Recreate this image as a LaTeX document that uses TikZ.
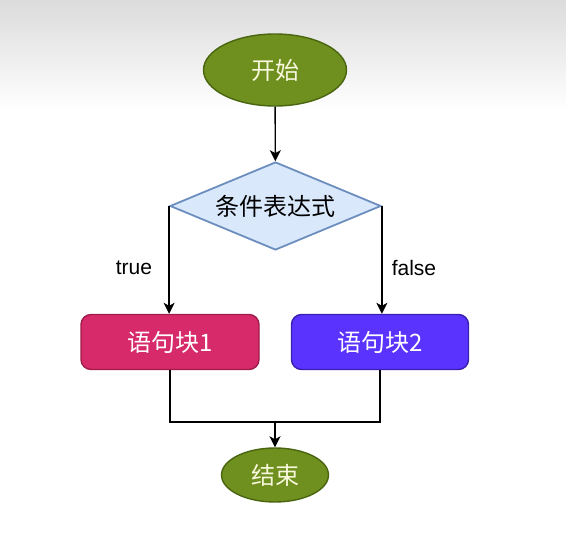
\documentclass[tikz,border=0pt]{standalone}
\usepackage{fontspec}
\setmainfont{Liberation Sans}
\newfontfamily\cjk{Noto Sans CJK SC}
\usetikzlibrary{shapes.geometric,arrows.meta}
\definecolor{termfill}{HTML}{6F8F1F}
\definecolor{termline}{HTML}{4A6510}
\definecolor{termtext}{HTML}{F8F8DC}
\definecolor{condfill}{HTML}{DAE8FC}
\definecolor{condline}{HTML}{6C8EBF}
\definecolor{onefill}{HTML}{D62A6A}
\definecolor{oneline}{HTML}{A01C4A}
\definecolor{twofill}{HTML}{5B33FF}
\definecolor{twoline}{HTML}{3A1FB0}
\tikzset{
  term/.style={ellipse, draw=termline, fill=termfill, line width=1.4pt,
    text=termtext, inner sep=0pt, font=\cjk\fontsize{24}{28}\selectfont},
  cond/.style={diamond, aspect=2.4, draw=condline, fill=condfill, line width=1.8pt,
    inner sep=0pt, minimum width=211pt, minimum height=88pt,
    font=\cjk\fontsize{24}{28}\selectfont},
  block/.style={rectangle, rounded corners=10pt, line width=1.4pt, text=white,
    inner sep=0pt, minimum height=55pt, font=\cjk\fontsize{24}{28}\selectfont},
  flow/.style={line width=1.4pt, -{Stealth[length=11pt,width=11pt,inset=3pt]}},
  tag/.style={font=\fontsize{21}{24}\selectfont}
}
\begin{document}
\begin{tikzpicture}[x=1pt,y=-1pt]
                \useasboundingbox (0,0) rectangle (566,551);
                \shade[top color=gray!28, bottom color=white] (0,0) rectangle (566,110);
                \node[term, minimum width=143pt, minimum height=72pt] (start) at (275,70) {开始};
                \node[cond] (cond) at (275.5,206) {条件表达式};
                \node[block, draw=oneline, fill=onefill, minimum width=178pt] (one) at (170,342) {语句块1};
                \node[block, draw=twoline, fill=twofill, minimum width=177pt] (two) at (380,342) {语句块2};
                \node[term, minimum width=107pt, minimum height=54pt] (stop) at (275,475) {结束};
                \node[tag] (yes) at (134,268) {true};
                \node[tag] (no) at (414,268) {false};
                \coordinate (join) at (275,422);
                \draw[flow] (start) -- (cond);
                \draw[flow] (cond.west) -- (cond.west |- one.north);
                \draw[flow] (cond.east) -- (cond.east |- two.north);
                \draw[line width=1.4pt] (one.south) |- (join);
                \draw[line width=1.4pt] (two.south) |- (join);
                \draw[flow] (join) -- (stop);
            \end{tikzpicture}
\end{document}
